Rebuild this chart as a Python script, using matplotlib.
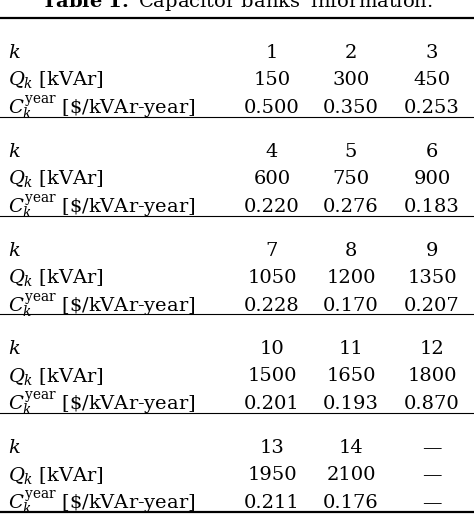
import matplotlib
matplotlib.use("Agg")
import matplotlib.pyplot as plt

plt.rcParams["font.family"] = ["DejaVu Serif"]
plt.rcParams["mathtext.fontset"] = "dejavuserif"

k_vals = [[1, 2, 3], [4, 5, 6], [7, 8, 9], [10, 11, 12], [13, 14, None]]
q_vals = [[150, 300, 450], [600, 750, 900], [1050, 1200, 1350],
          [1500, 1650, 1800], [1950, 2100, None]]
c_vals = [[0.500, 0.350, 0.253], [0.220, 0.276, 0.183], [0.228, 0.170, 0.207],
          [0.201, 0.193, 0.870], [0.211, 0.176, None]]
row_labels = [r"$k$", r"$Q_k$ [kVAr]", r"$C_k^{\mathrm{year}}$ [\$/kVAr-year]"]

W, H = 474, 524
fig = plt.figure(figsize=(W / 100, H / 100), dpi=100)
ax = fig.add_axes([0, 0, 1, 1])
ax.set_xlim(0, W)
ax.set_ylim(H, 0)
ax.axis("off")

fs = 14
ax.text(W / 2, 2, r"$\mathbf{Table\ 1.}$ Capacitor banks' information.",
        ha="center", va="center", fontsize=fs)

col_x = [272, 351, 432]
block_top = 18
block_h = 98.8
ax.axhline(block_top, color="black", lw=1.6)
for b in range(5):
    y0 = block_top + b * block_h
    rows_y = [y0 + 35, y0 + 62, y0 + 90]
    vals = [k_vals[b], q_vals[b], c_vals[b]]
    for r in range(3):
        ax.text(8, rows_y[r], row_labels[r], ha="left", va="center", fontsize=fs)
        for c in range(3):
            v = vals[r][c]
            if v is None:
                s = "—"
            elif r == 2:
                s = f"{v:.3f}"
            else:
                s = str(v)
            ax.text(col_x[c], rows_y[r], s, ha="center", va="center", fontsize=fs)
    ax.axhline(y0 + block_h, color="black", lw=1.6 if b == 4 else 0.8)

fig.savefig("out.png", dpi=100)
